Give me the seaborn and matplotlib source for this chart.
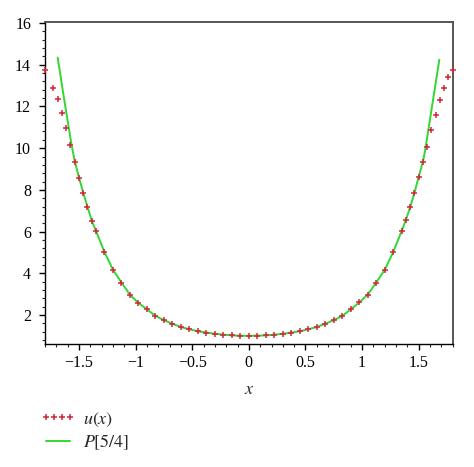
import matplotlib
matplotlib.use("Agg")
import matplotlib.pyplot as plt
import seaborn as sns
import pandas as pd
from matplotlib.ticker import MultipleLocator
from matplotlib.lines import Line2D

# ---- data ----
red_x = [-1.8, -1.725, -1.6875, -1.65, -1.6125, -1.575, -1.5375, -1.5, -1.4625, -1.425,
         -1.3875, -1.35, -1.275, -1.2, -1.125, -1.05, -0.975, -0.9, -0.825, -0.75,
         -0.675, -0.6, -0.525, -0.45, -0.375, -0.3, -0.225, -0.15, -0.075, 0.0,
         0.075, 0.15, 0.225, 0.3, 0.375, 0.45, 0.525, 0.6, 0.675, 0.75,
         0.825, 0.9, 0.975, 1.05, 1.125, 1.2, 1.275, 1.35, 1.3875, 1.425,
         1.4625, 1.5, 1.5375, 1.575, 1.6125, 1.65, 1.6875, 1.725, 1.7625, 1.8]
red_y = [13.75, 12.90, 12.34, 11.70, 10.97, 10.17, 9.35, 8.56, 7.84, 7.18,
         6.51, 6.03, 5.01, 4.16, 3.55, 2.96, 2.58, 2.27, 1.96, 1.75,
         1.57, 1.42, 1.31, 1.22, 1.15, 1.10, 1.05, 1.02, 1.00, 1.00,
         1.00, 1.02, 1.05, 1.10, 1.15, 1.22, 1.31, 1.42, 1.57, 1.75,
         1.96, 2.27, 2.60, 2.98, 3.55, 4.17, 5.01, 6.04, 6.57, 7.17,
         7.84, 8.63, 9.35, 10.07, 10.86, 11.60, 12.32, 12.88, 13.41, 13.75]

green_x = [-1.688, -1.625, -1.566, -1.5375, -1.5, -1.4625, -1.425, -1.3875, -1.35, -1.275,
           -1.2, -1.125, -1.05, -0.975, -0.9, -0.825, -0.75, -0.6, -0.45, -0.3,
           -0.15, 0.0, 0.15, 0.3, 0.45, 0.6, 0.75, 0.825, 0.9, 0.975,
           1.05, 1.125, 1.2, 1.275, 1.35, 1.3875, 1.425, 1.4625, 1.5, 1.5375,
           1.56, 1.62, 1.682]
green_y = [14.34, 12.15, 10.17, 9.38, 8.60, 7.86, 7.19, 6.53, 6.04, 5.02,
           4.17, 3.56, 2.97, 2.58, 2.27, 1.96, 1.75, 1.42, 1.22, 1.10,
           1.02, 1.00, 1.02, 1.10, 1.22, 1.42, 1.75, 1.96, 2.27, 2.60,
           2.98, 3.56, 4.17, 5.02, 6.04, 6.57, 7.18, 7.86, 8.64, 9.36,
           10.0, 12.1, 14.24]

y_ticks = [2, 4, 6, 8, 10, 12, 14, 16]
x_ticks = [-1.5, -1, -0.5, 0, 0.5, 1, 1.5]
x_ticklabels = ["\u22121.5", "\u22121", "\u22120.5", "0", "0.5", "1", "1.5"]

red_color = "#d0283a"
green_color = "#33d633"

sns.set_style("ticks")
plt.rcParams["font.family"] = ["Liberation Serif", "DejaVu Serif"]
plt.rcParams["mathtext.fontset"] = "stix"

fig = plt.figure(figsize=(4.74, 4.67), dpi=100)
ax = fig.add_axes([45 / 474, 1 - 344 / 467, (452.7 - 45) / 474, (344 - 22) / 467])

df_g = pd.DataFrame({"x": green_x, "y": green_y})
df_r = pd.DataFrame({"x": red_x, "y": red_y})

sns.lineplot(data=df_g, x="x", y="y", ax=ax, color=green_color, lw=1.4,
             estimator=None, sort=True, legend=False)
sns.scatterplot(data=df_r, x="x", y="y", ax=ax, marker="+", color=red_color,
                s=18, linewidth=1.1, legend=False, clip_on=False, zorder=3)

ax.set_xlim(-1.8, 1.8)
ax.set_ylim(0.61, 16.05)
ax.set_xticks(x_ticks)
ax.set_xticklabels(x_ticklabels)
ax.set_yticks(y_ticks)
ax.xaxis.set_minor_locator(MultipleLocator(0.1))
ax.yaxis.set_minor_locator(MultipleLocator(0.4))
ax.tick_params(axis="both", which="major", direction="out", length=4, width=1,
               labelsize=11.5, colors="black")
ax.tick_params(axis="both", which="minor", direction="out", length=2.2, width=0.8)
ax.tick_params(axis="x", which="major", pad=4)
ax.tick_params(axis="y", which="major", pad=6)

for side in ["top", "right"]:
    ax.spines[side].set_visible(True)
    ax.spines[side].set_color("#555555")
    ax.spines[side].set_linewidth(1.4)
for side in ["left", "bottom"]:
    ax.spines[side].set_color("black")
    ax.spines[side].set_linewidth(1.0)

ax.set_ylabel("")
ax.set_xlabel("$x$", fontsize=13, labelpad=7)

handles = [
    Line2D([], [], linestyle="None", marker="+", color=red_color, markersize=4.2,
           markeredgewidth=1.1),
    Line2D([], [], color=green_color, lw=1.4),
]
fig.legend(handles, ["$u(x)$", "$P[5/4]$"], loc="upper left",
           bbox_to_anchor=(37 / 474, 1 - 407 / 467), frameon=False,
           fontsize=13, numpoints=4, handlelength=1.9, handletextpad=0.45,
           labelspacing=0.2, borderaxespad=0.0, borderpad=0.2)

fig.savefig("out.png", dpi=100)
